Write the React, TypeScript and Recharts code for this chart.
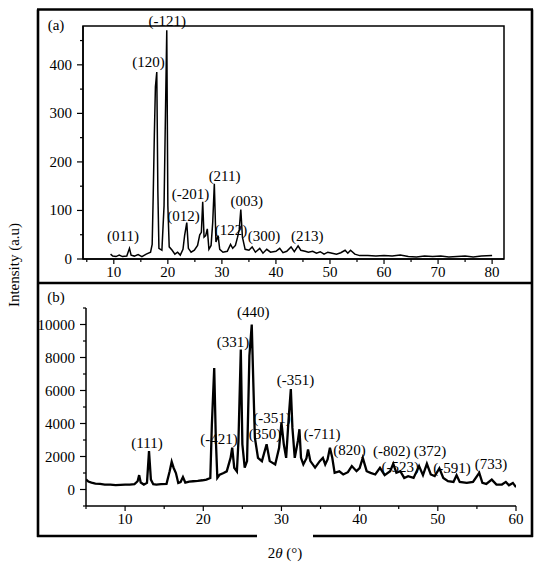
import { LineChart, Line, XAxis, YAxis, ReferenceDot, ReferenceArea } from "recharts";

const FONT = "'Liberation Serif', 'Times New Roman', serif";

// panel (a): 2θ (deg) and intensity
const twoThetaA = [
  9.4, 9.8, 10.4, 11.0, 11.6, 12.4, 12.9, 13.2, 13.8, 14.5, 15.2, 16.0, 16.8, 17.1, 17.3, 17.5, 17.7, 17.95,
  18.15, 18.35, 18.9, 19.3, 19.5, 19.8, 20.0, 20.25, 20.8, 21.3, 21.8, 22.3, 22.8, 23.1, 23.5, 23.8, 24.3,
  24.9, 25.5, 25.9, 26.2, 26.45, 26.7, 27.0, 27.3, 27.6, 28.0, 28.3, 28.6, 28.9, 29.3, 29.6, 30.2, 31.0, 31.6,
  32.0, 32.5, 32.9, 33.2, 33.5, 33.8, 34.3, 35.0, 35.6, 36.2, 37.0, 37.6, 38.3, 39.0, 40.0, 40.7, 41.3, 42.0,
  42.8, 43.4, 44.1, 44.6, 45.4, 46.0, 46.8, 47.5, 48.2, 48.9, 49.6, 50.4, 51.2, 52.0, 52.8, 53.3, 53.8, 54.6,
  55.5, 57.0, 58.5, 60.0, 61.5, 63.0, 64.5, 66.0, 67.5, 69.0, 70.5, 72.0, 73.5, 75.0, 76.5, 78.0, 80.0,
];
const intensityA = [
  10, 6, 5, 8, 5, 6, 22, 8, 6, 9, 5, 10, 14, 30, 135, 255, 355, 385,
  140, 22, 18, 110, 258, 471, 110, 25, 18, 10, 14, 8, 20, 48, 75, 22, 14,
  18, 28, 50, 55, 118, 45, 48, 62, 20, 28, 75, 155, 35, 48, 20, 14, 16, 30,
  22, 28, 45, 60, 102, 45, 20, 18, 25, 14, 22, 12, 20, 14, 16, 22, 13, 16,
  25, 15, 27, 18, 16, 14, 16, 12, 15, 10, 14, 12, 10, 13, 18, 12, 18, 10,
  7, 7, 6, 7, 6, 8, 5, 4, 6, 5, 6, 4, 5, 6, 4, 6, 7,
];

// panel (b)
const twoThetaB = [
  5.0, 5.3, 5.7, 6.2, 6.8, 7.4, 8.1, 8.8, 9.4, 10.0, 10.6, 11.2, 11.6, 11.8, 12.0, 12.4, 12.8, 13.06, 13.3,
  13.6, 14.0, 14.6, 15.3, 15.7, 15.96, 16.2, 16.5, 16.8, 17.1, 17.4, 17.7, 18.2, 18.7, 19.3, 19.9, 20.4, 20.9,
  21.1, 21.4, 21.6, 21.8, 22.1, 22.6, 23.0, 23.5, 23.7, 23.96, 24.3, 24.5, 24.8, 25.0, 25.3, 25.6, 25.9, 26.2,
  26.4, 26.6, 27.0, 27.5, 28.1, 28.5, 29.2, 29.7, 30.0, 30.3, 30.6, 30.9, 31.2, 31.4, 31.7, 32.1, 32.3, 32.5,
  32.8, 33.2, 33.4, 33.7, 34.3, 34.9, 35.3, 35.6, 35.9, 36.2, 36.5, 36.8, 37.4, 37.9, 38.5, 39.0, 39.6, 40.0,
  40.4, 40.9, 41.4, 42.0, 42.6, 43.2, 43.9, 44.3, 44.7, 45.2, 45.7, 46.2, 46.9, 47.6, 48.1, 48.6, 49.1, 49.6,
  50.2, 50.7, 51.3, 52.0, 52.4, 52.8, 53.7, 54.5, 55.3, 55.7, 56.2, 56.9, 57.5, 58.2, 58.7, 59.1, 59.6, 60.0,
];
const intensityB = [
  610, 480, 420, 360, 340, 300, 290, 260, 280, 300, 290, 330, 500, 870, 420, 300, 400, 2330, 600,
  320, 300, 330, 345, 1100, 1680, 1320, 1000, 400, 450, 750, 420, 480, 500, 520, 560, 600, 700,
  3950, 7360, 3140, 700, 900, 1000, 1100, 1930, 2540, 1320, 1100, 2940, 8480, 2740, 1320, 1720, 8100, 10000,
  6490, 3140, 1920, 1720, 2740, 1720, 1520, 2530, 4050, 2740, 1920, 4160, 6090, 3750, 1920, 2940, 3650, 1920,
  1520, 1900, 2430, 1720, 1330, 1720, 1920, 1520, 1820, 2530, 1920, 1010, 1100, 910, 1050, 1420, 1110, 1300,
  1920, 1110, 1010, 910, 1310, 870, 1110, 1560, 1010, 1110, 700, 810, 700, 1420, 870, 1560, 910, 810,
  1280, 700, 500, 460, 870, 460, 400, 460, 1010, 400, 340, 600, 300, 300, 460, 260, 400, 140,
];

// Miller-index labels, anchored in data space (2θ, intensity)
const hklA = ["(011)", "(120)", "(-121)", "(012)", "(-201)", "(211)", "(122)", "(003)", "(300)", "(213)"];
const hklThetaA = [11.7, 16.4, 19.9, 22.9, 24.2, 30.5, 31.7, 34.6, 37.8, 45.8];
const hklIntensityA = [47, 406, 491, 89, 134, 172, 61, 119, 47, 47];

const hklB = [
  "(111)", "(-421)", "(331)", "(440)", "(350)", "(-351)", "(-351)", "(-711)",
  "(820)", "(-802)", "(-523)", "(372)", "(-591)", "(733)",
];
const hklThetaB = [12.8, 22.0, 23.8, 26.4, 27.9, 28.8, 31.8, 35.2, 38.7, 44.1, 45.2, 49.0, 51.8, 56.8];
const hklIntensityB = [2840, 3100, 8980, 10750, 3350, 4360, 6630, 3350, 2390, 2330, 1360, 2330, 1310, 1560];

const xTicksA = [5, 10, 15, 20, 25, 30, 35, 40, 45, 50, 55, 60, 65, 70, 75, 80];
const yTicksA = [0, 50, 100, 150, 200, 250, 300, 350, 400, 450];
const xTicksB = [5, 10, 15, 20, 25, 30, 35, 40, 45, 50, 55, 60];
const yTicksB = [-1000, 0, 1000, 2000, 3000, 4000, 5000, 6000, 7000, 8000, 9000, 10000, 11000];

const dataA = twoThetaA.map((t, i) => ({ twoTheta: t, intensity: intensityA[i] }));
const dataB = twoThetaB.map((t, i) => ({ twoTheta: t, intensity: intensityB[i] }));

const txt = { fontFamily: FONT, fontSize: 15, fill: "#000" };

const XTick = (props: any) => {
  const { x, y, payload } = props;
  const major = payload.value % 10 === 0;
  return (
    <g>
      <line x1={x} x2={x} y1={y} y2={y + (major ? 5 : 3)} stroke="#000" strokeWidth={1.2} />
      {major && (
        <text x={x} y={y + 18} textAnchor="middle" {...txt}>
          {payload.value}
        </text>
      )}
    </g>
  );
};

const yTick = (step: number) => (props: any) => {
  const { x, y, payload } = props;
  const major = payload.value % step === 0;
  return (
    <g>
      <line x1={x} x2={x - (major ? 6 : 3)} y1={y} y2={y} stroke="#000" strokeWidth={1.2} />
      {major && (
        <text x={x - 11} y={y + 5} textAnchor="end" {...txt}>
          {payload.value}
        </text>
      )}
    </g>
  );
};

const hklShape = (label: string) => (p: any) => (
  <text x={p.cx} y={p.cy} dy="0.35em" textAnchor="middle" {...txt}>
    {label}
  </text>
);

export default function App() {
  return (
    <div style={{ position: "absolute", left: 0, top: 0, width: 540, height: 566, background: "#fff" }}>
      <div style={{ position: "absolute", left: 0, top: 0 }}>
        <LineChart width={540} height={283} data={dataA} margin={{ top: 26, right: 36, bottom: 0, left: 0 }}>
          <XAxis
            dataKey="twoTheta"
            type="number"
            domain={[4.3, 82.2]}
            allowDataOverflow
            ticks={xTicksA}
            interval={0}
            height={24}
            tickSize={0}
            tickMargin={0}
            tick={XTick}
            axisLine={{ stroke: "#000", strokeWidth: 1.5 }}
          />
          <YAxis
            type="number"
            domain={[0, 480]}
            allowDataOverflow
            ticks={yTicksA}
            interval={0}
            width={83}
            tickSize={0}
            tickMargin={0}
            tick={yTick(100)}
            axisLine={{ stroke: "#000", strokeWidth: 1.5 }}
          />
          <ReferenceArea x1={4.3} x2={82.2} y1={0} y2={480} fill="none" stroke="#000" strokeWidth={1.5} />
          <Line
            dataKey="intensity"
            type="linear"
            stroke="#000"
            strokeWidth={1.5}
            dot={false}
            isAnimationActive={false}
          />
          {hklA.map((h, i) => (
            <ReferenceDot
              key={"a" + i}
              x={hklThetaA[i]}
              y={hklIntensityA[i]}
              r={0}
              ifOverflow="visible"
              shape={hklShape(h)}
            />
          ))}
        </LineChart>
      </div>
      <div style={{ position: "absolute", left: 0, top: 283 }}>
        <LineChart width={540} height={283} data={dataB} margin={{ top: 25, right: 24, bottom: 0, left: 0 }}>
          <XAxis
            dataKey="twoTheta"
            type="number"
            domain={[5, 60]}
            allowDataOverflow
            ticks={xTicksB}
            interval={0}
            height={60}
            tickSize={0}
            tickMargin={0}
            tick={XTick}
            axisLine={{ stroke: "#000", strokeWidth: 1.5 }}
          />
          <YAxis
            type="number"
            domain={[-1000, 11000]}
            allowDataOverflow
            ticks={yTicksB}
            interval={0}
            width={86}
            tickSize={0}
            tickMargin={0}
            tick={yTick(2000)}
            axisLine={{ stroke: "#000", strokeWidth: 1.5 }}
          />
          <Line
            dataKey="intensity"
            type="linear"
            stroke="#000"
            strokeWidth={2.3}
            dot={false}
            isAnimationActive={false}
          />
          {hklB.map((h, i) => (
            <ReferenceDot
              key={"b" + i}
              x={hklThetaB[i]}
              y={hklIntensityB[i]}
              r={0}
              ifOverflow="visible"
              shape={hklShape(h)}
            />
          ))}
        </LineChart>
      </div>
      <svg
        width={540}
        height={566}
        style={{ position: "absolute", left: 0, top: 0, pointerEvents: "none" }}
      >
        <g stroke="#000" strokeWidth={2.6} fill="none">
          <line x1={37} y1={9.5} x2={533} y2={9.5} />
          <line x1={38} y1={9.5} x2={38} y2={537} />
          <line x1={532} y1={9.5} x2={532} y2={537} />
          <line x1={37} y1={283} x2={533} y2={283} />
          <line x1={37} y1={536} x2={257} y2={536} />
          <line x1={313} y1={536} x2={533} y2={536} />
        </g>
        <text x={56} y={25} dy="0.35em" textAnchor="middle" {...txt}>
          (a)
        </text>
        <text x={56} y={297} dy="0.35em" textAnchor="middle" {...txt}>
          (b)
        </text>
        <text transform="translate(14,265) rotate(-90)" textAnchor="middle" dy="0.35em" {...txt}>
          Intensity (a.u)
        </text>
        <text x={285} y={553} dy="0.35em" textAnchor="middle" {...txt}>
          2<tspan fontStyle="italic">θ</tspan> (°)
        </text>
      </svg>
    </div>
  );
}
